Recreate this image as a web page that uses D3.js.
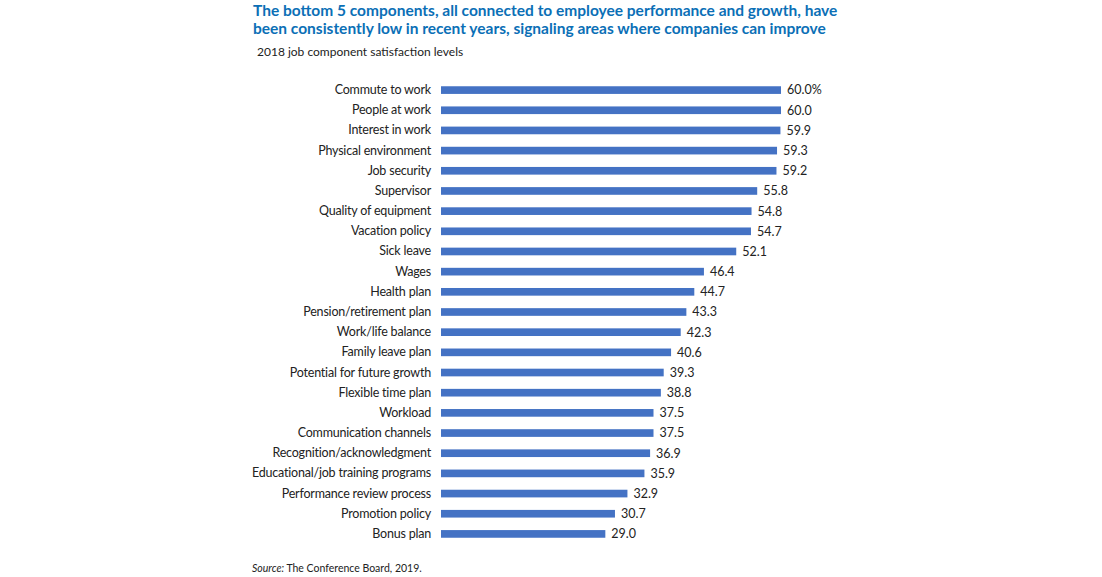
<!DOCTYPE html>
<html>
<head>
<meta charset="utf-8">
<script src="https://cdn.jsdelivr.net/npm/d3@7"></script>
<style>
  body { margin: 0; background: #fff; }
  svg { display: block; font-family: Lato, "Open Sans", sans-serif; }
</style>
</head>
<body>
<svg id="chart" width="1102" height="577"></svg>
<script>
const categories = [
  "Commute to work", "People at work", "Interest in work", "Physical environment",
  "Job security", "Supervisor", "Quality of equipment", "Vacation policy",
  "Sick leave", "Wages", "Health plan", "Pension/retirement plan",
  "Work/life balance", "Family leave plan", "Potential for future growth",
  "Flexible time plan", "Workload", "Communication channels",
  "Recognition/acknowledgment", "Educational/job training programs",
  "Performance review process", "Promotion policy", "Bonus plan"
];
const values = [
  60.0, 60.0, 59.9, 59.3, 59.2, 55.8, 54.8, 54.7, 52.1, 46.4, 44.7, 43.3,
  42.3, 40.6, 39.3, 38.8, 37.5, 37.5, 36.9, 35.9, 32.9, 30.7, 29.0
];
const titleLines = [
  "The bottom 5 components, all connected to employee performance and growth, have",
  "been consistently low in recent years, signaling areas where companies can improve"
];
const subtitle = "2018 job component satisfaction levels";

const svg = d3.select("#chart");

// title
const title = svg.append("g");
titleLines.forEach((line, i) => {
  title.append("text")
    .attr("x", 253)
    .attr("y", 16 + i * 17.5)
    .attr("fill", "#0b6fb6")
    .attr("font-size", 15.5)
    .attr("font-weight", 700)
    .text(line);
});
// squeeze title lines to reference width
title.selectAll("text").each(function(d, i) {
  const target = i === 0 ? 583 : 570;
  const w = this.getComputedTextLength();
  if (Math.abs(w - target) > 3) d3.select(this).attr("textLength", target).attr("lengthAdjust", "spacingAndGlyphs");
});

svg.append("text")
  .attr("x", 257)
  .attr("y", 56)
  .attr("font-size", 12)
  .attr("fill", "#222")
  .text(subtitle);

const x = d3.scaleLinear().domain([0, 60]).range([441, 781]);
const y = d3.scaleBand().domain(categories).range([80, 544]).paddingInner(0.62).paddingOuter(0.31);

const g = svg.append("g");

g.selectAll("rect.bar")
  .data(values)
  .join("rect")
  .attr("class", "bar")
  .attr("x", x(0))
  .attr("y", (d, i) => y(categories[i]))
  .attr("width", d => x(d) - x(0))
  .attr("height", y.bandwidth())
  .attr("fill", "#4472c4");

const yAxis = d3.axisLeft(y).tickSize(0).tickPadding(10);
const ax = g.append("g")
  .attr("transform", `translate(${x(0)},0)`)
  .call(yAxis);
ax.select(".domain").remove();
ax.selectAll("text")
  .attr("font-size", 12.5)
  .attr("letter-spacing", -0.2)
  .attr("font-family", "Lato, sans-serif")
  .attr("fill", "#222");

g.selectAll("text.val")
  .data(values)
  .join("text")
  .attr("class", "val")
  .attr("x", d => x(d) + 6)
  .attr("y", (d, i) => y(categories[i]) + y.bandwidth() / 2)
  .attr("dy", "0.35em")
  .attr("font-size", 12.5)
  .attr("fill", "#222")
  .text((d, i) => i === 0 ? d.toFixed(1) + "%" : d.toFixed(1));

const src = svg.append("text")
  .attr("x", 252)
  .attr("y", 572)
  .attr("font-size", 10.5)
  .attr("fill", "#222");
src.append("tspan").attr("font-style", "italic").text("Source:");
src.append("tspan").text(" The Conference Board, 2019.");
</script>
</body>
</html>
